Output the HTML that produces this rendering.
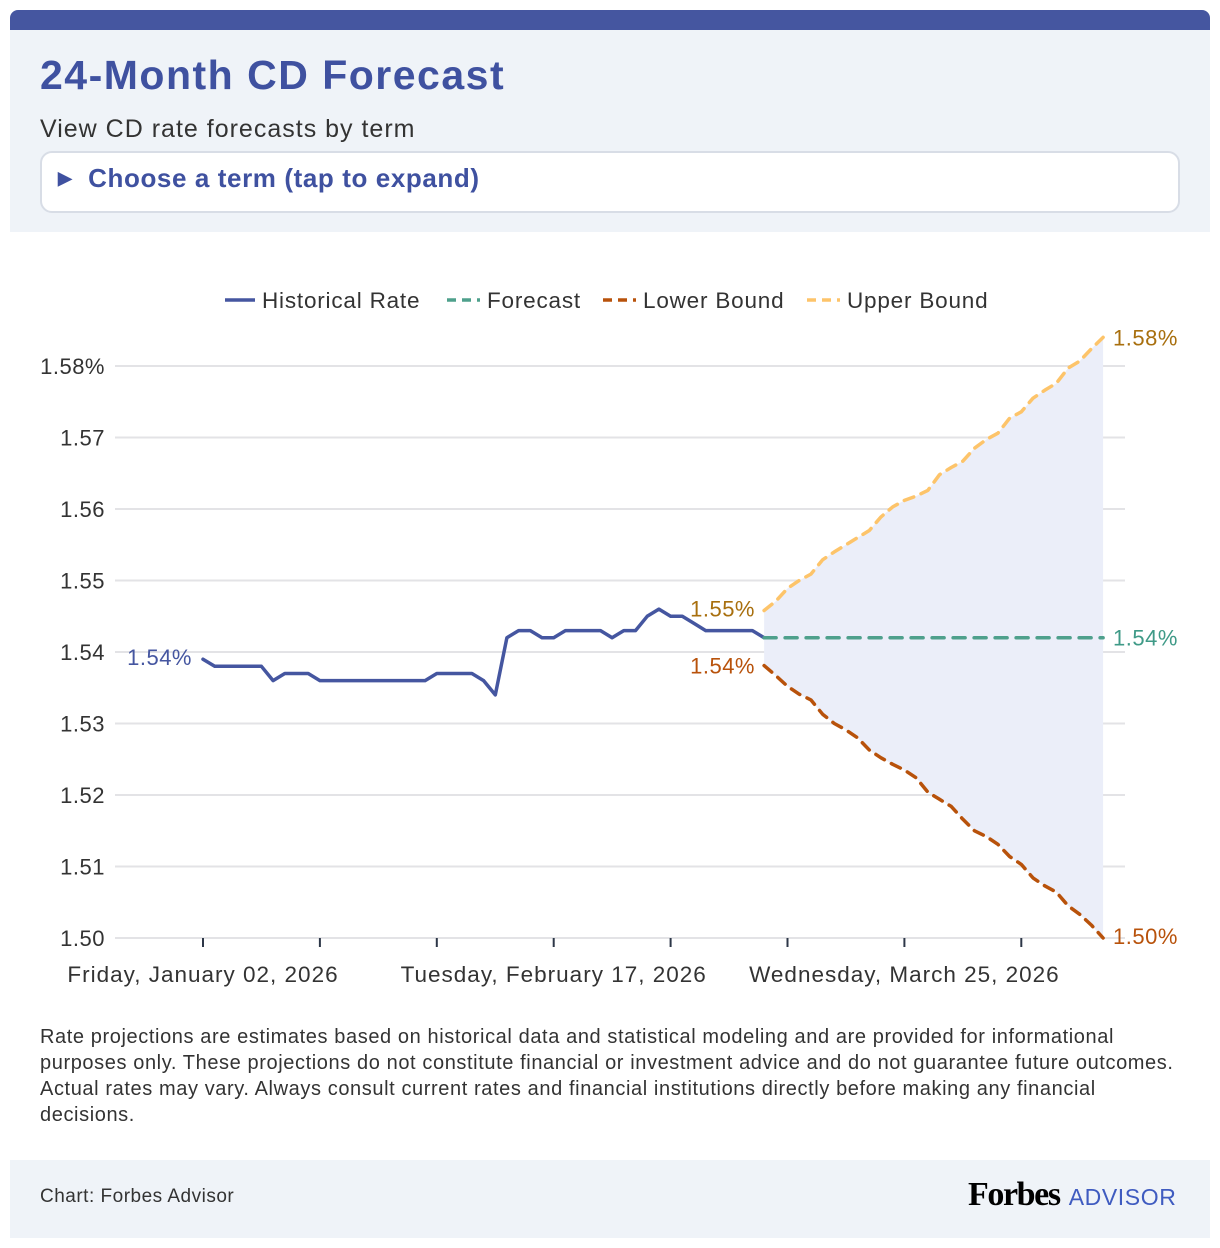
<!DOCTYPE html>
<html><head><meta charset="utf-8">
<style>
body{margin:0;background:#fff;width:1220px;height:1248px;position:relative;font-family:"Liberation Sans",sans-serif;overflow:hidden}
.abs{position:absolute}
</style></head>
<body>
<div class="abs" style="left:10px;top:10px;width:1200px;height:24px;background:#4556a0;border-radius:8px 8px 0 0"></div>
<div class="abs" style="left:10px;top:30px;width:1200px;height:202px;background:#eff3f8"></div>
<div class="abs" style="left:40px;top:52px;font-size:41px;font-weight:bold;color:#3f51a0;letter-spacing:1.5px">24-Month CD Forecast</div>
<div class="abs" style="left:40px;top:115px;font-size:25px;color:#333;letter-spacing:1px">View CD rate forecasts by term</div>
<div class="abs" style="left:40px;top:151px;width:1136px;height:58px;background:#fff;border:2px solid #d8dde6;border-radius:12px"></div>
<div class="abs" style="left:58px;top:163px;font-size:26px;font-weight:bold;color:#3f51a0;letter-spacing:0.6px"><span style="font-size:18px;position:relative;top:-3px">&#9654;</span>&nbsp; Choose a term (tap to expand)</div>

<svg class="abs" style="left:0;top:0" width="1220" height="1248">
<g id="grid"></g>
<g id="band"></g>
<g id="lines"></g>
<g id="labels" font-family="Liberation Sans, sans-serif" letter-spacing="0.5"></g>
<g font-family="Liberation Sans, sans-serif" font-size="22.5" fill="#333" letter-spacing="0.8">
 <line x1="225" y1="300" x2="255" y2="300" stroke="#4556a0" stroke-width="3.5"/>
 <text x="262" y="308">Historical Rate</text>
 <line x1="447" y1="300" x2="480" y2="300" stroke="#4ea08c" stroke-width="3.5" stroke-dasharray="9 6"/>
 <text x="487" y="308">Forecast</text>
 <line x1="603" y1="300" x2="636" y2="300" stroke="#b8520b" stroke-width="3.5" stroke-dasharray="9 6"/>
 <text x="643" y="308">Lower Bound</text>
 <line x1="807" y1="300" x2="840" y2="300" stroke="#fdc46a" stroke-width="3.5" stroke-dasharray="9 6"/>
 <text x="847" y="308">Upper Bound</text>
</g>
</svg>

<div class="abs" style="left:40px;top:1024px;width:1170px;font-size:20px;line-height:26px;color:#333;letter-spacing:0.6px;white-space:nowrap">Rate projections are estimates based on historical data and statistical modeling and are provided for informational<br>purposes only. These projections do not constitute financial or investment advice and do not guarantee future outcomes.<br>Actual rates may vary. Always consult current rates and financial institutions directly before making any financial<br>decisions.</div>
<div class="abs" style="left:10px;top:1160px;width:1200px;height:78px;background:#eff3f8"></div>
<div class="abs" style="left:40px;top:1186px;font-size:19px;color:#333;letter-spacing:0.5px">Chart: Forbes Advisor</div>
<div class="abs" style="left:968px;top:1176px;white-space:nowrap"><span style="font-family:'Liberation Serif',serif;font-weight:bold;font-size:34px;color:#000;letter-spacing:-1.4px">Forbes</span><span style="font-size:23px;color:#3f5bc0;margin-left:9px;letter-spacing:0.6px">ADVISOR</span></div>

<script>
const yTicks=[1.50,1.51,1.52,1.53,1.54,1.55,1.56,1.57,1.58];
const yTickLabels=["1.50","1.51","1.52","1.53","1.54","1.55","1.56","1.57","1.58%"];
const xTickIdx=[0,10,20,30,40,50,60,70];
const xLabelIdx=[0,30,60];
const xLabels=["Friday, January 02, 2026","Tuesday, February 17, 2026","Wednesday, March 25, 2026"];
const historical=[1.539,1.538,1.538,1.538,1.538,1.538,1.536,1.537,1.537,1.537,1.536,1.536,1.536,1.536,1.536,1.536,1.536,1.536,1.536,1.536,1.537,1.537,1.537,1.537,1.536,1.534,1.542,1.543,1.543,1.542,1.542,1.543,1.543,1.543,1.543,1.542,1.543,1.543,1.545,1.546,1.545,1.545,1.544,1.543,1.543,1.543,1.543,1.543,1.542];
const forecastStart=48;
const forecast=Array(30).fill(1.542);
const upper=[1.5458,1.5471,1.5489,1.5500,1.5509,1.5529,1.5540,1.5550,1.5560,1.5570,1.5589,1.5603,1.5612,1.5618,1.5626,1.5648,1.5658,1.5667,1.5685,1.5697,1.5706,1.5727,1.5736,1.5755,1.5766,1.5776,1.5797,1.5807,1.5824,1.5840];
const lower=[1.5381,1.5367,1.5352,1.5341,1.5333,1.5313,1.5300,1.5291,1.5280,1.5263,1.5252,1.5243,1.5235,1.5224,1.5204,1.5194,1.5184,1.5166,1.5150,1.5142,1.5131,1.5114,1.5103,1.5084,1.5073,1.5064,1.5045,1.5033,1.5018,1.5000];

const NS="http://www.w3.org/2000/svg";
const X=i=>203+i*11.69;
const Y=v=>938-(v-1.50)*7150;
function mk(tag,attrs,parent){const e=document.createElementNS(NS,tag);for(const k in attrs)e.setAttribute(k,attrs[k]);parent.appendChild(e);return e;}
const grid=document.getElementById('grid'),band=document.getElementById('band'),lines=document.getElementById('lines'),labels=document.getElementById('labels');
yTicks.forEach((v,k)=>{
 const l=mk('line',{x1:115,x2:1125,y1:Y(v),y2:Y(v),stroke:'#e3e3e6','stroke-width':2},grid);
 
 
 const t=mk('text',{x:105,y:Y(v)+8,'text-anchor':'end','font-size':22,fill:'#333'},labels);
 t.textContent=yTickLabels[k];
 
 
});
xTickIdx.forEach(i=>{
 const l=mk('line',{x1:X(i),x2:X(i),y1:938,y2:947,stroke:'#2d3748','stroke-width':2},grid);
 
 
});
xLabelIdx.forEach((i,k)=>{
 const t=mk('text',{x:X(i),y:982,'text-anchor':'middle','font-size':22.5,fill:'#333','letter-spacing':1},labels);
 t.textContent=xLabels[k];
 
 
});
const pts=(arr,off)=>arr.map((v,i)=>X(i+off).toFixed(1)+','+Y(v).toFixed(1));
const up=pts(upper,forecastStart),lo=pts(lower,forecastStart);
const bp=mk('polygon',{points:up.concat(lo.slice().reverse()).join(' '),fill:'#ebeef9'},band);


function line(arr,off,color,dash,name){
 const p=mk('polyline',{points:pts(arr,off).join(' '),fill:'none',stroke:color,'stroke-width':3.5,'stroke-linejoin':'round','stroke-linecap':'round'},lines);
 if(dash)p.setAttribute('stroke-dasharray',dash);
 
 
}
line(historical,0,'#4556a0',null,'historical-rate-line');
line(forecast,forecastStart,'#4ea08c','12 9','forecast-line');
line(lower,forecastStart,'#b8520b','10 8','lower-bound-line');
line(upper,forecastStart,'#fdc46a','10 8','upper-bound-line');
function lab(txt,x,y,anchor,color,name){
 const t=mk('text',{x:x,y:y,'text-anchor':anchor,'font-size':22,fill:color},labels);
 t.textContent=txt;
 
 
}
const fmt=v=>v.toFixed(2)+'%';
lab(fmt(historical[0]),192,Y(historical[0])+6,'end','#4556a0','historical-start-label');
lab(fmt(upper[0]),755,Y(upper[0])+6,'end','#a86f0e','upper-start-label');
lab(fmt(lower[0]),755,Y(lower[0])+8,'end','#b8520b','lower-start-label');
lab(fmt(upper[upper.length-1]),1113,Y(upper[upper.length-1])+8,'start','#a86f0e','upper-end-label');
lab(fmt(forecast[forecast.length-1]),1113,Y(forecast[forecast.length-1])+8,'start','#3f9a87','forecast-end-label');
lab(fmt(lower[lower.length-1]),1113,Y(lower[lower.length-1])+6,'start','#b8520b','lower-end-label');
</script>
</body></html>
